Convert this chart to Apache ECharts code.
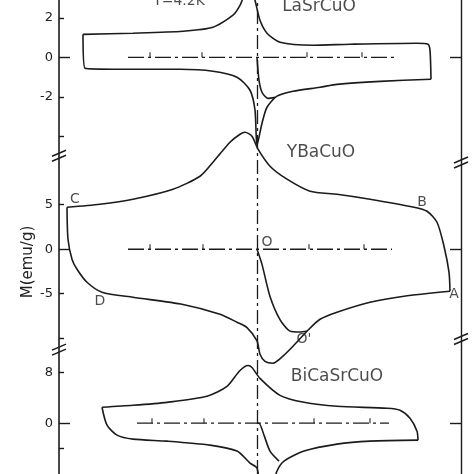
<!DOCTYPE html>
<html><head><meta charset="utf-8">
<script src="https://cdn.jsdelivr.net/npm/echarts@6/dist/echarts.min.js"></script>
<style>html,body{margin:0;padding:0;background:#fff}#c{width:474px;height:474px}</style>
</head><body><div id="c"></div>
<script>
// ---- data (H in arbitrary field units, M in emu/g) ----
const laUpper = [[-17.4,1.16],[-12.4,1.22],[-7.4,1.32],[-4.4,1.52],[-2.4,2.13],[-1.7,2.63],[-1.3,3.14],[-0.8,3.9],[-0.2,2.89],[0.3,1.87],[1.0,1.22],[2.3,0.76],[5.6,0.61],[9.3,0.66],[16.0,0.71],[17.1,0.66],[17.3,0.35],[17.4,-1.11]];
const laLower = [[17.4,-1.11],[12.3,-1.22],[8.0,-1.37],[6.3,-1.52],[3.6,-1.72],[2.0,-1.97],[1.0,-2.53],[0.5,-3.34],[0.0,-4.46],[-0.2,-2.68],[-0.7,-1.67],[-2.0,-1.01],[-4.4,-0.71],[-7.7,-0.61],[-13.4,-0.61],[-17.2,-0.56],[-17.4,1.16]];
const laVirgin = [[0,0],[0.2,-1.16],[0.5,-1.77],[1.1,-2.08],[1.8,-2.03]];

const ybUpper = [[-19.0,4.72],[-15.7,5.06],[-12.4,5.62],[-8.4,6.74],[-5.7,8.2],[-4.4,9.78],[-2.7,12.02],[-1.7,12.92],[-1.2,13.15],[-0.5,12.7],[0.1,11.24],[1.3,9.33],[3.0,7.87],[5.3,6.52],[8.0,6.18],[11.3,5.62],[15.7,4.72],[17.0,4.27],[18.0,3.03],[18.7,0.34],[19.2,-2.58],[19.3,-4.72]];
const ybLower = [[19.3,-4.72],[14.7,-5.28],[11.3,-5.96],[8.0,-7.08],[6.3,-7.87],[5.0,-9.21],[3.6,-10.9],[2.6,-12.0],[1.6,-12.8],[0.8,-12.6],[0.3,-11.8],[0.0,-10.3],[-1.0,-8.8],[-2.0,-8.2],[-3.7,-7.3],[-7.4,-6.2],[-12.4,-5.4],[-15.5,-4.83],[-17.0,-3.71],[-18.0,-2.25],[-18.5,-1.12],[-18.9,1.12],[-19.0,4.72]];
const ybVirgin = [[0,0],[0.5,-1.7],[1.3,-5.3],[2.3,-7.9],[3.3,-9.2],[4.3,-9.3],[5.0,-9.21]];

const biUpper = [[-15.5,2.51],[-12.4,2.82],[-9.0,3.29],[-5.0,4.24],[-3.0,5.8],[-1.7,8.31],[-0.9,9.1],[-0.5,8.78],[0.3,7.06],[2.3,4.39],[4.7,3.29],[8.0,2.67],[13.0,2.35],[14.3,2.04],[15.3,0.78],[16.0,-1.25],[16.1,-2.67]];
const biLower = [[16.1,-2.67],[11.3,-2.82],[8.0,-3.29],[4.7,-4.39],[2.7,-5.96],[2.0,-7.53],[1.5,-10.2],[0.8,-11.0],[0.3,-9.9],[0.0,-7.06],[-0.7,-6.27],[-2.0,-4.39],[-4.7,-3.45],[-9.0,-2.82],[-12.4,-2.51],[-14.0,-1.88],[-15.0,-0.31],[-15.5,2.51]];
const biVirgin = [[0,0],[0.2,0],[0.7,-1.88],[1.3,-4.39],[2.2,-5.96]];

// axis ticks / labels per panel
const leftTicks = [[2,-2,-4],[5,-5,-10],[8,-4]];
const leftLabels = [[2,0,-2],[5,0,-5],[8,0]];
const zeroLineExtent = [[-12.9,13.7],[-12.9,13.5],[-12.0,13.2]];
const zeroLineTicks = [[-10.7,-5.5,5.0,10.5],[-10.7,-5.4,5.2,10.7],[-10.5,-5.3,5.7,11.3]];
const notes = [
  [[-7.8,2.84,'T=4.2K'],[6.2,2.58,'LaSrCuO']],
  [[6.4,10.9,'YBaCuO'],[-18.2,5.6,'C'],[16.5,5.3,'B'],[19.7,-5.1,'A'],[-15.7,-5.8,'D'],[1.0,0.8,'O'],[4.7,-10.1,"O'"]],
  [[8.0,7.4,'BiCaSrCuO']]
];
const yRanges = [[-21.1,2.9],[-25.25,28],[-8,66.67]];
const xRange = [-19.8,20.4];
// axis breaks: [side, panel, value]
const breaks = [['left',0,-4.86],['left',1,-11.0],['right',0,-5.2],['right',1,-9.8]];

// ---- chart ----
const INK = '#1b1b1b';
const FONT = 'DejaVu Sans';
const chart = echarts.init(document.getElementById('c'), null, {renderer:'canvas'});
const grids = [], xAxes = [], yAxes = [], series = [];
const loops = [[laUpper,laLower,laVirgin],[ybUpper,ybLower,ybVirgin],[biUpper,biLower,biVirgin]];
function noteSize(n){ if (n==='T=4.2K') return 14; if (n.length>=6) return 17; return 14; }
for (let i=0;i<3;i++){
  grids.push({left:59, right:13, top:0, height: i===2?476:474});
  xAxes.push({gridIndex:i, type:'value', min:xRange[0], max:xRange[1], show:false});
  yAxes.push({gridIndex:i, type:'value', position:'left', min:yRanges[i][0], max:yRanges[i][1],
    axisLine:{show:i===0, onZero:false, lineStyle:{color:INK,width:1.6}},
    axisTick:{show:true, inside:true, length:5, customValues:leftTicks[i], lineStyle:{color:INK,width:1.4}},
    axisLabel:{show:true, customValues:leftLabels[i], margin:6, fontSize:13, color:'#222', fontFamily:FONT,
      formatter: v => String(v)},
    splitLine:{show:false}});
  yAxes.push({gridIndex:i, type:'value', position:'left', min:yRanges[i][0], max:yRanges[i][1],
    axisLine:{show:false, onZero:false}, axisTick:{show:true, inside:true, length:11, customValues:[0], lineStyle:{color:INK,width:1.4}},
    axisLabel:{show:false}, splitLine:{show:false}});
  yAxes.push({gridIndex:i, type:'value', position:'right', min:yRanges[i][0], max:yRanges[i][1],
    axisLine:{show:i===0, onZero:false, lineStyle:{color:INK,width:1.4}},
    axisTick:{show:true, inside:true, length:11, customValues:[0], lineStyle:{color:INK,width:1.4}},
    axisLabel:{show:false}, splitLine:{show:false}});
  loops[i].forEach(d => series.push({type:'line', xAxisIndex:i, yAxisIndex:i*3, data:d, showSymbol:false,
    smooth:0.25, lineStyle:{color:INK,width:1.6}, silent:true, z:3}));
  series.push({type:'line', xAxisIndex:i, yAxisIndex:i*3, showSymbol:false,
    data: zeroLineExtent[i].map(h=>[h,0]), lineStyle:{color:INK,width:1.3,type:[16,4,3,4]}, silent:true});
  series.push({type:'scatter', xAxisIndex:i, yAxisIndex:i*3, data: zeroLineTicks[i].map(h=>[h,0]),
    symbol:'rect', symbolSize:[1.3,5], symbolOffset:[0,-2.5], itemStyle:{color:INK}, silent:true});
  series.push({type:'scatter', xAxisIndex:i, yAxisIndex:i*3, symbolSize:0, silent:true,
    data: notes[i].map(n=>({value:[n[0],n[1]], name:n[2], label:{fontSize:noteSize(n[2])}})),
    label:{show:true, position:'inside', formatter:'{b}', color:'#1e1e1e', fontFamily:FONT}});
}
// vertical dash-dot line at H=0
series.push({type:'line', xAxisIndex:0, yAxisIndex:0, data:[], markLine:{symbol:'none', silent:true, label:{show:false},
  lineStyle:{color:INK,width:1.3,type:[14,4,3,4]}, data:[{xAxis:0}]}});

chart.setOption({animation:false, backgroundColor:'#fff', grid:grids, xAxis:xAxes, yAxis:yAxes, series:series});

// decorations: axis break marks and axis title
const gfx = [];
breaks.forEach(b=>{
  const x = b[0]==='left' ? 59 : 461;
  const y = chart.convertToPixel({yAxisIndex:b[1]*3}, b[2]);
  [0,5].forEach(o=>gfx.push({type:'line', shape:{x1:x-7,y1:y+o+3,x2:x+7,y2:y+o-3}, style:{stroke:INK,lineWidth:1.5}}));
});
gfx.push({type:'text', x:28, y:262, rotation:Math.PI/2, style:{text:'M(emu/g)', font:'15px "DejaVu Sans"', fill:'#222', align:'center', verticalAlign:'middle'}});
chart.setOption({graphic:gfx});
</script></body></html>
